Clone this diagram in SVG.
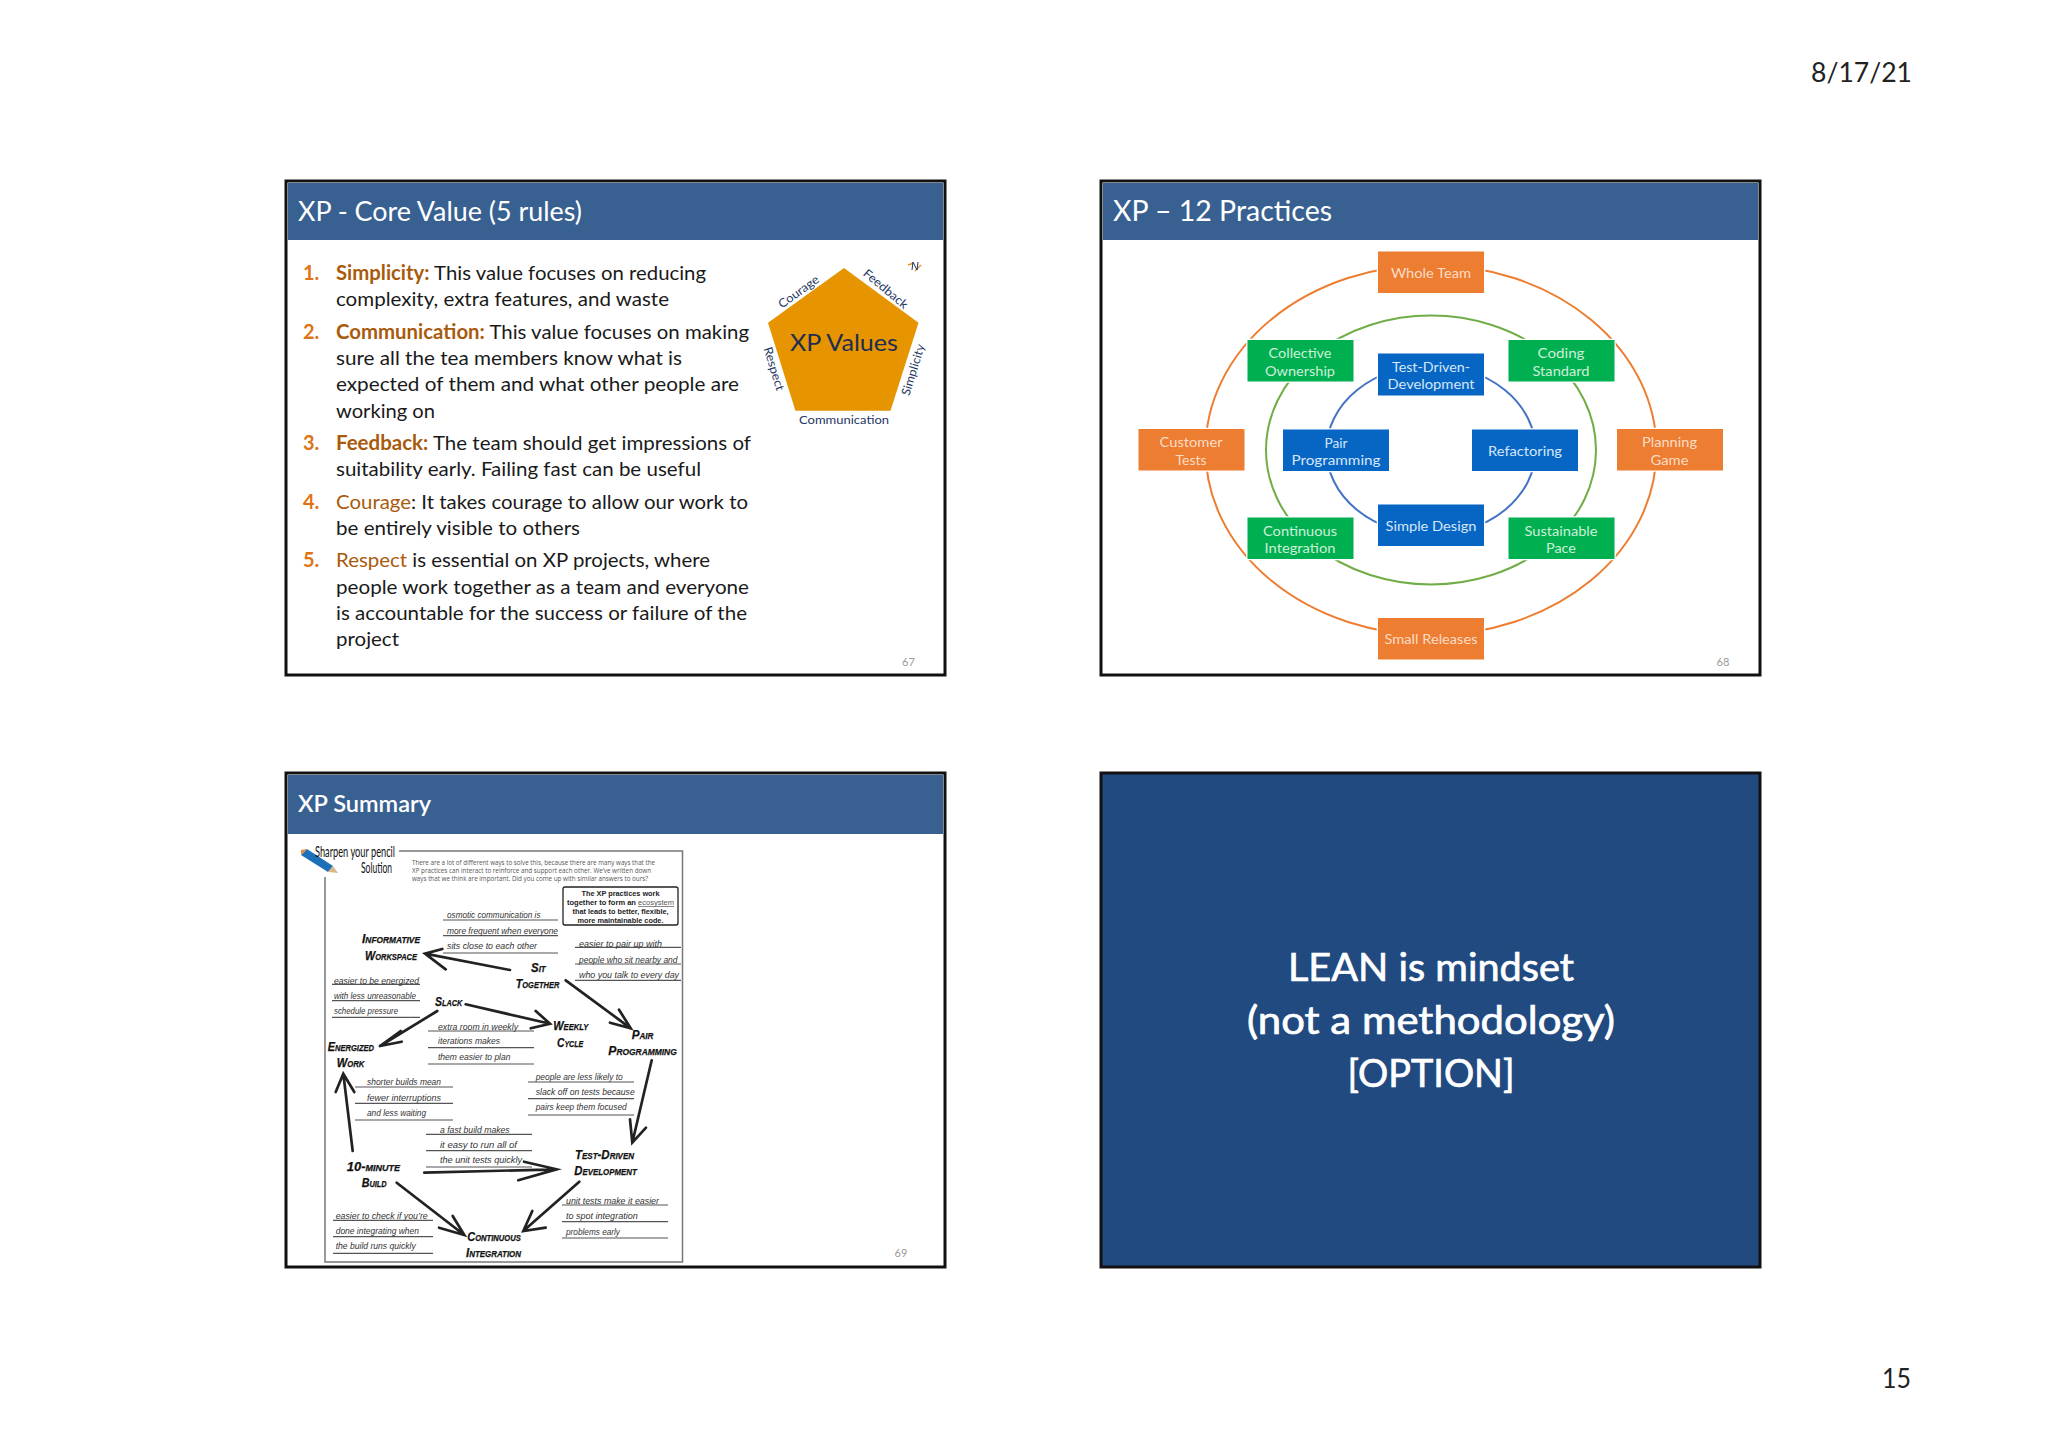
<svg xmlns="http://www.w3.org/2000/svg" width="2048" height="1447" viewBox="0 0 2048 1447">
<style>
text{font-family:"Lato","Carlito","Liberation Sans",sans-serif}
.slide{fill:#fff;stroke:#111;stroke-width:3}
.band{fill:#386192}
.title{fill:#fff;font-size:26px}
.body{fill:#1a1a1a;font-size:20px}
.num{fill:#DE7415;font-size:20px;font-weight:700}
.lead{fill:#A95A0C}
.b{font-weight:700}
.pg{fill:#9a9a9a;font-size:11px;text-anchor:middle}
.pent{fill:#E69500}
.val{fill:#1F3864;font-size:12px;text-anchor:middle}
.hdr{fill:#222;font-size:26px}
.box{stroke:#fff;stroke-width:2.5;paint-order:stroke}
.or{fill:#ED7D31}.gr{fill:#00B050}.bl{fill:#0766C4}
.t{font-size:13.5px;text-anchor:middle}
.to{fill:#FBDCC6}.tg{fill:#CDEFD8}.tb{fill:#D5E6F7}
.ring{fill:none;stroke-width:2}
.big{fill:#fff;font-size:38px;text-anchor:middle;stroke:#fff;stroke-width:.7}
.para{fill:#555;font-size:6.5px;font-family:"Open Sans","Liberation Sans",sans-serif}
.note{font-family:"Liberation Sans",Arial,sans-serif;font-weight:700;font-size:7px;fill:#222;text-anchor:middle}
.hw{font-family:"Liberation Sans",Arial,sans-serif;font-style:italic;font-size:9.5px;fill:#333}
.rule{stroke:#555;stroke-width:1.2;fill:none}
.cap{font-family:"Liberation Sans",Arial,sans-serif;font-style:italic;font-weight:700;font-size:13px;fill:#111;font-variant:small-caps;stroke:#111;stroke-width:.25}
.arr{fill:none;stroke:#222;stroke-width:2.7;stroke-linecap:round;stroke-linejoin:miter}
.frame{fill:none;stroke:#777;stroke-width:1.5}
</style>
<rect width="2048" height="1447" fill="#fff"/>
<text x="1811" y="82" class="hdr" textLength="101" lengthAdjust="spacingAndGlyphs">8/17/21</text>
<text x="1882" y="1388" class="hdr" textLength="29" lengthAdjust="spacingAndGlyphs">15</text>

<g id="slide-67">
<rect class="slide" x="286" y="181" width="659" height="494"/>
<rect class="band" x="288" y="183" width="655" height="57"/>
<text class="title" x="298" y="220.5" textLength="284" lengthAdjust="spacingAndGlyphs">XP - Core Value (5 rules)</text>
<g transform="translate(0,1)">
<text class="num" x="303" y="279">1.</text>
<text class="body" x="336" y="279" textLength="370" lengthAdjust="spacingAndGlyphs"><tspan class="lead b">Simplicity:</tspan> This value focuses on reducing</text>
<text class="body" x="336" y="305" textLength="333" lengthAdjust="spacingAndGlyphs">complexity, extra features, and waste</text>
<text class="num" x="303" y="338">2.</text>
<text class="body" x="336" y="338" textLength="413" lengthAdjust="spacingAndGlyphs"><tspan class="lead b">Communication:</tspan> This value focuses on making</text>
<text class="body" x="336" y="364" textLength="346" lengthAdjust="spacingAndGlyphs">sure all the tea members know what is</text>
<text class="body" x="336" y="390" textLength="403" lengthAdjust="spacingAndGlyphs">expected of them and what other people are</text>
<text class="body" x="336" y="417" textLength="99" lengthAdjust="spacingAndGlyphs">working on</text>
<text class="num" x="303" y="449">3.</text>
<text class="body" x="336" y="449" textLength="415" lengthAdjust="spacingAndGlyphs"><tspan class="lead b">Feedback:</tspan> The team should get impressions of</text>
<text class="body" x="336" y="475" textLength="365" lengthAdjust="spacingAndGlyphs">suitability early. Failing fast can be useful</text>
<text class="num" x="303" y="508">4.</text>
<text class="body" x="336" y="508" textLength="412" lengthAdjust="spacingAndGlyphs"><tspan class="lead">Courage</tspan>: It takes courage to allow our work to</text>
<text class="body" x="336" y="534" textLength="244" lengthAdjust="spacingAndGlyphs">be entirely visible to others</text>
<text class="num" x="303" y="566">5.</text>
<text class="body" x="336" y="566" textLength="374" lengthAdjust="spacingAndGlyphs"><tspan class="lead">Respect</tspan> is essential on XP projects, where</text>
<text class="body" x="336" y="593" textLength="413" lengthAdjust="spacingAndGlyphs">people work together as a team and everyone</text>
<text class="body" x="336" y="619" textLength="411" lengthAdjust="spacingAndGlyphs">is accountable for the success or failure of the</text>
<text class="body" x="336" y="645" textLength="63" lengthAdjust="spacingAndGlyphs">project</text>
</g>
<polygon class="pent" points="844,268 918.5,322.7 890.5,410.7 795.4,410.7 768,322.7"/>
<text x="844" y="351" fill="#1F2D50" font-size="24" text-anchor="middle" textLength="108" lengthAdjust="spacingAndGlyphs">XP Values</text>
<text class="val" x="844" y="424" textLength="90" lengthAdjust="spacingAndGlyphs">Communication</text>
<text class="val" transform="translate(801,295) rotate(-36)" textLength="47" lengthAdjust="spacingAndGlyphs">Courage</text>
<text class="val" transform="translate(883,292) rotate(40)" textLength="54" lengthAdjust="spacingAndGlyphs">Feedback</text>
<text class="val" transform="translate(770,370) rotate(73)" textLength="45" lengthAdjust="spacingAndGlyphs">Respect</text>
<text class="val" transform="translate(917,371) rotate(-73)" textLength="53" lengthAdjust="spacingAndGlyphs">Simplicity</text>
<path d="M908 265L914 263M915 271L921 265" fill="none" stroke="#E8902A" stroke-width="1.4"/>
<path d="M912 270L913 262L917 270L918 262" fill="none" stroke="#1F3864" stroke-width="1"/>
<text class="pg" x="908.5" y="665.5">67</text>
</g>

<g id="slide-68">
<rect class="slide" x="1101" y="181" width="659" height="494"/>
<rect class="band" x="1103" y="183" width="655" height="57"/>
<text class="title" x="1113" y="221" style="font-size:29px" textLength="219" lengthAdjust="spacingAndGlyphs">XP – 12 Practices</text>
<g id="connectors-68">
<ellipse class="ring" cx="1431" cy="450" rx="225.5" ry="185" stroke="#ED7D31"/>
<ellipse class="ring" cx="1431" cy="450" rx="165" ry="134.5" stroke="#70AD47"/>
<ellipse class="ring" cx="1431" cy="450" rx="104.5" ry="84.8" stroke="#4472C4"/>
</g>
<g id="whole-team"><rect class="box or" x="1378" y="251.5" width="106" height="41.5"/><text class="t to" x="1431" y="277.5" textLength="80" lengthAdjust="spacingAndGlyphs">Whole Team</text></g>
<g id="customer-tests"><rect class="box or" x="1138.5" y="429" width="106" height="41.5"/><text class="t to" x="1191" y="447" textLength="63" lengthAdjust="spacingAndGlyphs">Customer</text><text class="t to" x="1191" y="464.5" textLength="31" lengthAdjust="spacingAndGlyphs">Tests</text></g>
<g id="planning-game"><rect class="box or" x="1617" y="429" width="106" height="41.5"/><text class="t to" x="1669.5" y="447" textLength="55" lengthAdjust="spacingAndGlyphs">Planning</text><text class="t to" x="1669.5" y="464.5" textLength="38" lengthAdjust="spacingAndGlyphs">Game</text></g>
<g id="small-releases"><rect class="box or" x="1378" y="618" width="106" height="41.5"/><text class="t to" x="1431" y="644" textLength="93" lengthAdjust="spacingAndGlyphs">Small Releases</text></g>
<g id="collective-ownership"><rect class="box gr" x="1247.5" y="340" width="106" height="41.5"/><text class="t tg" x="1300" y="358" textLength="63" lengthAdjust="spacingAndGlyphs">Collective</text><text class="t tg" x="1300" y="375.5" textLength="70" lengthAdjust="spacingAndGlyphs">Ownership</text></g>
<g id="coding-standard"><rect class="box gr" x="1508.5" y="340" width="106" height="41.5"/><text class="t tg" x="1561" y="358" textLength="47" lengthAdjust="spacingAndGlyphs">Coding</text><text class="t tg" x="1561" y="375.5" textLength="57" lengthAdjust="spacingAndGlyphs">Standard</text></g>
<g id="continuous-integration"><rect class="box gr" x="1247.5" y="517.5" width="106" height="41.5"/><text class="t tg" x="1300" y="535.5" textLength="74" lengthAdjust="spacingAndGlyphs">Continuous</text><text class="t tg" x="1300" y="553" textLength="71" lengthAdjust="spacingAndGlyphs">Integration</text></g>
<g id="sustainable-pace"><rect class="box gr" x="1508.5" y="517.5" width="106" height="41.5"/><text class="t tg" x="1561" y="535.5" textLength="73" lengthAdjust="spacingAndGlyphs">Sustainable</text><text class="t tg" x="1561" y="553" textLength="30" lengthAdjust="spacingAndGlyphs">Pace</text></g>
<g id="test-driven"><rect class="box bl" x="1378" y="353.5" width="106" height="42"/><text class="t tb" x="1431" y="371.5" textLength="78" lengthAdjust="spacingAndGlyphs">Test-Driven-</text><text class="t tb" x="1431" y="389" textLength="87" lengthAdjust="spacingAndGlyphs">Development</text></g>
<g id="pair-programming"><rect class="box bl" x="1283" y="429.5" width="106" height="41.5"/><text class="t tb" x="1336" y="447.5" textLength="23" lengthAdjust="spacingAndGlyphs">Pair</text><text class="t tb" x="1336" y="465" textLength="89" lengthAdjust="spacingAndGlyphs">Programming</text></g>
<g id="refactoring"><rect class="box bl" x="1472" y="429.5" width="106" height="41.5"/><text class="t tb" x="1525" y="456" textLength="74" lengthAdjust="spacingAndGlyphs">Refactoring</text></g>
<g id="simple-design"><rect class="box bl" x="1378" y="504.5" width="106" height="41.5"/><text class="t tb" x="1431" y="530.5" textLength="91" lengthAdjust="spacingAndGlyphs">Simple Design</text></g>
<text class="pg" x="1723" y="665.5">68</text>
</g>

<g id="slide-69">
<rect class="slide" x="286" y="773" width="659" height="494"/>
<rect class="band" x="288" y="775" width="655" height="59"/>
<text class="title" x="298" y="812" font-weight="600" style="font-size:22.5px" textLength="133" lengthAdjust="spacingAndGlyphs">XP Summary</text>
<g transform="translate(0,1)">
<path class="frame" d="M399 850H682.5V1261H325V876"/>
<g id="pencil">
<polygon points="307,848 333,865 328,871 301,854" fill="#1D6FB8"/>
<polygon points="301,849 307,848 301,854" fill="#E08A3C"/>
<polygon points="333,865 338,872 328,871" fill="#D9B98A"/>
</g>
<text x="315" y="856" fill="#111" font-size="15" textLength="80" lengthAdjust="spacingAndGlyphs">Sharpen your pencil</text>
<text x="361" y="871.5" fill="#111" font-size="15" textLength="31" lengthAdjust="spacingAndGlyphs">Solution</text>
<text class="para" x="412" y="864" textLength="243" lengthAdjust="spacingAndGlyphs">There are a lot of different ways to solve this, because there are many ways that the</text>
<text class="para" x="412" y="872" textLength="239" lengthAdjust="spacingAndGlyphs">XP practices can interact to reinforce and support each other. We’ve written down</text>
<text class="para" x="412" y="880" textLength="236" lengthAdjust="spacingAndGlyphs">ways that we think are important. Did you come up with similar answers to ours?</text>
<g id="note">
<rect x="563" y="886" width="115" height="38" rx="2" fill="#fff" stroke="#222" stroke-width="1.3"/>
<text class="note" x="620.5" y="895" textLength="78" lengthAdjust="spacingAndGlyphs">The XP practices work</text>
<text class="note" x="620.5" y="904" textLength="107" lengthAdjust="spacingAndGlyphs">together to form an <tspan font-weight="400" text-decoration="underline" fill="#555">ecosystem</tspan></text>
<text class="note" x="620.5" y="912.7" textLength="96" lengthAdjust="spacingAndGlyphs">that leads to better, flexible,</text>
<text class="note" x="620.5" y="921.7" textLength="86" lengthAdjust="spacingAndGlyphs">more maintainable code.</text>
</g>
<g id="rules">
<path class="rule" d="M443 919H558M443 934.7H558M443 952H558M575 946.3H681M575 963H681M575 979.3H681M332 983.3H420M332 999.7H420M332 1016.3H420M428 1030H534M428 1046.7H534M428 1063H534M355 1086H453M355 1102.3H453M355 1119H453M528 1081H634M528 1097.7H634M528 1114H634M426 1133.3H532M426 1149.7H532M426 1166H532M333 1219.3H433M333 1235.7H433M333 1252.3H433M562 1204H668M562 1220.7H668M562 1237H668"/>
</g>
<g id="notes">
<text class="hw" x="447" y="917.3" textLength="93.5" lengthAdjust="spacingAndGlyphs">osmotic communication is</text>
<text class="hw" x="447" y="932.7" textLength="111" lengthAdjust="spacingAndGlyphs">more frequent when everyone</text>
<text class="hw" x="447" y="947.7" textLength="90" lengthAdjust="spacingAndGlyphs">sits close to each other</text>
<text class="hw" x="579" y="945.7" textLength="83" lengthAdjust="spacingAndGlyphs">easier to pair up with</text>
<text class="hw" x="579" y="961.7" textLength="98.5" lengthAdjust="spacingAndGlyphs">people who sit nearby and</text>
<text class="hw" x="579" y="976.7" textLength="100" lengthAdjust="spacingAndGlyphs">who you talk to every day</text>
<text class="hw" x="334" y="982.7" textLength="85" lengthAdjust="spacingAndGlyphs">easier to be energized</text>
<text class="hw" x="334" y="998" textLength="82" lengthAdjust="spacingAndGlyphs">with less unreasonable</text>
<text class="hw" x="334" y="1013.3" textLength="64" lengthAdjust="spacingAndGlyphs">schedule pressure</text>
<text class="hw" x="438" y="1028.7" textLength="80" lengthAdjust="spacingAndGlyphs">extra room in weekly</text>
<text class="hw" x="438" y="1043.3" textLength="62" lengthAdjust="spacingAndGlyphs">iterations makes</text>
<text class="hw" x="438" y="1059" textLength="72.5" lengthAdjust="spacingAndGlyphs">them easier to plan</text>
<text class="hw" x="367" y="1084.3" textLength="74" lengthAdjust="spacingAndGlyphs">shorter builds mean</text>
<text class="hw" x="367" y="1099.7" textLength="74" lengthAdjust="spacingAndGlyphs">fewer interruptions</text>
<text class="hw" x="367" y="1115" textLength="59" lengthAdjust="spacingAndGlyphs">and less waiting</text>
<text class="hw" x="535.7" y="1079" textLength="87" lengthAdjust="spacingAndGlyphs">people are less likely to</text>
<text class="hw" x="535.7" y="1094" textLength="99" lengthAdjust="spacingAndGlyphs">slack off on tests because</text>
<text class="hw" x="535.7" y="1109.3" textLength="91" lengthAdjust="spacingAndGlyphs">pairs keep them focused</text>
<text class="hw" x="440" y="1131.7" textLength="69.7" lengthAdjust="spacingAndGlyphs">a fast build makes</text>
<text class="hw" x="440" y="1147" textLength="77" lengthAdjust="spacingAndGlyphs">it easy to run all of</text>
<text class="hw" x="440" y="1162.3" textLength="82" lengthAdjust="spacingAndGlyphs">the unit tests quickly</text>
<text class="hw" x="335.7" y="1217.7" textLength="92" lengthAdjust="spacingAndGlyphs">easier to check if you’re</text>
<text class="hw" x="335.7" y="1233" textLength="83.3" lengthAdjust="spacingAndGlyphs">done integrating when</text>
<text class="hw" x="335.7" y="1248.3" textLength="80" lengthAdjust="spacingAndGlyphs">the build runs quickly</text>
<text class="hw" x="566" y="1203" textLength="93" lengthAdjust="spacingAndGlyphs">unit tests make it easier</text>
<text class="hw" x="566" y="1218.3" textLength="71.7" lengthAdjust="spacingAndGlyphs">to spot integration</text>
<text class="hw" x="566" y="1234" textLength="54" lengthAdjust="spacingAndGlyphs">problems early</text>
</g>
<g id="informative-workspace"><text class="cap" x="362" y="942.3" textLength="58" lengthAdjust="spacingAndGlyphs">Informative</text><text class="cap" x="365" y="958.7" textLength="52" lengthAdjust="spacingAndGlyphs">Workspace</text></g>
<g id="sit-together"><text class="cap" x="531" y="971" textLength="14.7" lengthAdjust="spacingAndGlyphs">Sit</text><text class="cap" x="515.7" y="987" textLength="43.6" lengthAdjust="spacingAndGlyphs">Together</text></g>
<g id="slack"><text class="cap" x="435" y="1005.3" textLength="27.3" lengthAdjust="spacingAndGlyphs">Slack</text></g>
<g id="weekly-cycle"><text class="cap" x="553.3" y="1029.3" textLength="35" lengthAdjust="spacingAndGlyphs">Weekly</text><text class="cap" x="557" y="1045.7" textLength="26.3" lengthAdjust="spacingAndGlyphs">Cycle</text></g>
<g id="pair-programming-2"><text class="cap" x="631.7" y="1038.3" textLength="21.6" lengthAdjust="spacingAndGlyphs">Pair</text><text class="cap" x="608.3" y="1054.3" textLength="68.4" lengthAdjust="spacingAndGlyphs">Programming</text></g>
<g id="energized-work"><text class="cap" x="327.7" y="1050" textLength="46.3" lengthAdjust="spacingAndGlyphs">Energized</text><text class="cap" x="336.7" y="1066" textLength="27.6" lengthAdjust="spacingAndGlyphs">Work</text></g>
<g id="ten-minute-build"><text class="cap" x="346.7" y="1170" textLength="53.3" lengthAdjust="spacingAndGlyphs">10-minute</text><text class="cap" x="361.7" y="1186" textLength="25" lengthAdjust="spacingAndGlyphs">Build</text></g>
<g id="test-driven-development"><text class="cap" x="575" y="1158" textLength="59" lengthAdjust="spacingAndGlyphs">Test-Driven</text><text class="cap" x="574.3" y="1174" textLength="62.4" lengthAdjust="spacingAndGlyphs">Development</text></g>
<g id="continuous-integration-2"><text class="cap" x="467.3" y="1240" textLength="53.4" lengthAdjust="spacingAndGlyphs">Continuous</text><text class="cap" x="466" y="1256" textLength="55" lengthAdjust="spacingAndGlyphs">Integration</text></g>
<g id="connectors-69">
<path class="arr" d="M510 969L425 952.7M442.3 948L425 952.7L445.7 968.3"/>
<path class="arr" d="M465.7 1003.3L550 1022.7M535.7 1010L550 1022.7L530.7 1027.3"/>
<path class="arr" d="M437.3 1010L380 1045M400.7 1030L380 1045L401.7 1040.7"/>
<path class="arr" d="M565.7 979.3L630.7 1027.3M619 1008.7L630.7 1027.3L610 1021.7"/>
<path class="arr" d="M651.7 1059.3L632.3 1141.7M630 1118.3L632.3 1141.7L646 1126.7"/>
<path class="arr" d="M352.7 1150L343.3 1072.7M335.7 1091L343.3 1072.7L354.3 1091"/>
<path class="arr" d="M424.3 1171.7L556.7 1168.3M524 1160.7L556.7 1168.3L518.3 1179.3"/>
<path class="arr" d="M396.7 1181.7L464.3 1234M452.7 1215L464.3 1234L439 1226.7"/>
<path class="arr" d="M579.3 1180.7L523.3 1230M532.3 1210L523.3 1230L545.7 1226.7"/>
</g>
</g>
<text class="pg" x="901" y="1257">69</text>
</g>

<g id="slide-lean">
<rect x="1101" y="773" width="659" height="494" fill="#214A80" stroke="#111" stroke-width="3"/>
<text class="big" x="1431" y="981" textLength="286" lengthAdjust="spacingAndGlyphs">LEAN is mindset</text>
<text class="big" x="1431" y="1034" textLength="368" lengthAdjust="spacingAndGlyphs">(not a methodology)</text>
<text class="big" x="1431" y="1087" textLength="167" lengthAdjust="spacingAndGlyphs">[OPTION]</text>
</g>
</svg>
